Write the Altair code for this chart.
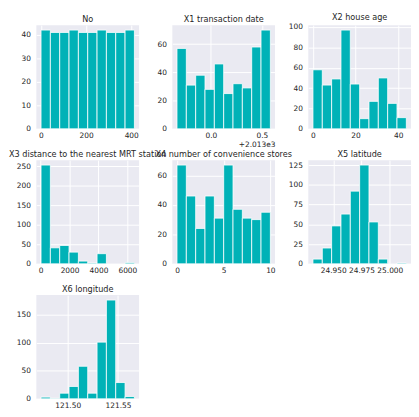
import altair as alt
import pandas as pd
import numpy as np

names = [
    "No",
    "X1 transaction date",
    "X2 house age",
    "X3 distance to the nearest MRT station",
    "X4 number of convenience stores",
    "X5 latitude",
    "X6 longitude",
]
mins = [1, 2012.667, 0.0, 23.38284, 0, 24.93207, 121.47353]
maxs = [414, 2013.583, 43.8, 6488.021, 10, 25.01459, 121.56627]
counts = [
    [42, 41, 41, 42, 41, 41, 42, 41, 41, 42],
    [57, 31, 38, 28, 46, 25, 32, 29, 58, 70],
    [58, 43, 49, 97, 44, 10, 27, 50, 25, 11],
    [253, 41, 47, 30, 7, 2, 26, 0, 0, 3],
    [67, 46, 24, 46, 31, 67, 37, 31, 30, 35],
    [6, 20, 48, 63, 92, 125, 53, 6, 0, 1],
    [3, 1, 10, 22, 58, 10, 101, 176, 29, 4],
]
x_ticks = [
    [0, 200, 400],
    [2013.0, 2013.5],
    [0, 20, 40],
    [0, 2000, 4000, 6000],
    [0, 5, 10],
    [24.95, 24.975, 25.0],
    [121.50, 121.55],
]
y_ticks = [
    [0, 10, 20, 30, 40],
    [0, 20, 40, 60],
    [0, 20, 40, 60, 80, 100],
    [0, 50, 100, 150, 200, 250],
    [0, 20, 40, 60],
    [0, 25, 50, 75, 100, 125],
    [0, 50, 100, 150],
]
x_formats = ["d", "d", "d", "d", "d", ".3f", ".2f"]

BAR = "#00B2B7"
TXT = "#262626"
FONT = "DejaVu Sans"
PW, PH = 105, 106


def panel(i):
    lo, hi = mins[i], maxs[i]
    edges = np.linspace(lo, hi, 11)
    df = pd.DataFrame({"start": edges[:-1], "end": edges[1:], "count": counts[i]})
    df = df[df["count"] > 0]
    r = hi - lo
    xdom = [lo - 0.05 * r, hi + 0.05 * r]
    ydom = [0, 1.05 * max(counts[i])]
    if i == 1:
        xaxis = alt.Axis(values=x_ticks[i],
                         labelExpr="format(datum.value - 2013, '.1f')",
                         titleAnchor="end", titleFontSize=7.6, titleFontWeight="normal",
                         titlePadding=1, titleColor=TXT, titleFont=FONT)
        xtitle = "+2.013e3"
    else:
        xaxis = alt.Axis(values=x_ticks[i], format=x_formats[i])
        xtitle = None
    x = alt.X("start:Q", scale=alt.Scale(domain=xdom, nice=False, zero=False),
              axis=xaxis, title=xtitle)
    y = alt.Y("count:Q", scale=alt.Scale(domain=ydom, nice=False),
              axis=alt.Axis(values=y_ticks[i], format="d"), title=None)
    return alt.Chart(df).mark_rect(
        color=BAR, stroke="white", strokeWidth=0.8
    ).encode(
        x=x, x2="end:Q", y=y, y2=alt.datum(0)
    ).properties(width=PW, height=PH, title=names[i])


chart = alt.concat(
    *[panel(i) for i in range(7)],
    columns=3,
    spacing={"row": 32, "column": 34},
    bounds="flush",
    padding=0,
    background="white",
).configure(
    font=FONT
).configure_view(
    fill="#EAEAF2", strokeWidth=0
).configure_axis(
    domain=False, ticks=False, tickSize=0,
    grid=True, gridColor="white", gridWidth=1,
    labelFont=FONT, labelFontSize=7.6, labelColor=TXT,
).configure_axisY(
    labelPadding=6
).configure_axisX(
    labelPadding=3
).configure_title(
    font=FONT, fontSize=8.3, fontWeight="normal", color=TXT, offset=2, anchor="middle"
)

chart.save("out.html", embed_options={"renderer": "svg", "actions": False})
